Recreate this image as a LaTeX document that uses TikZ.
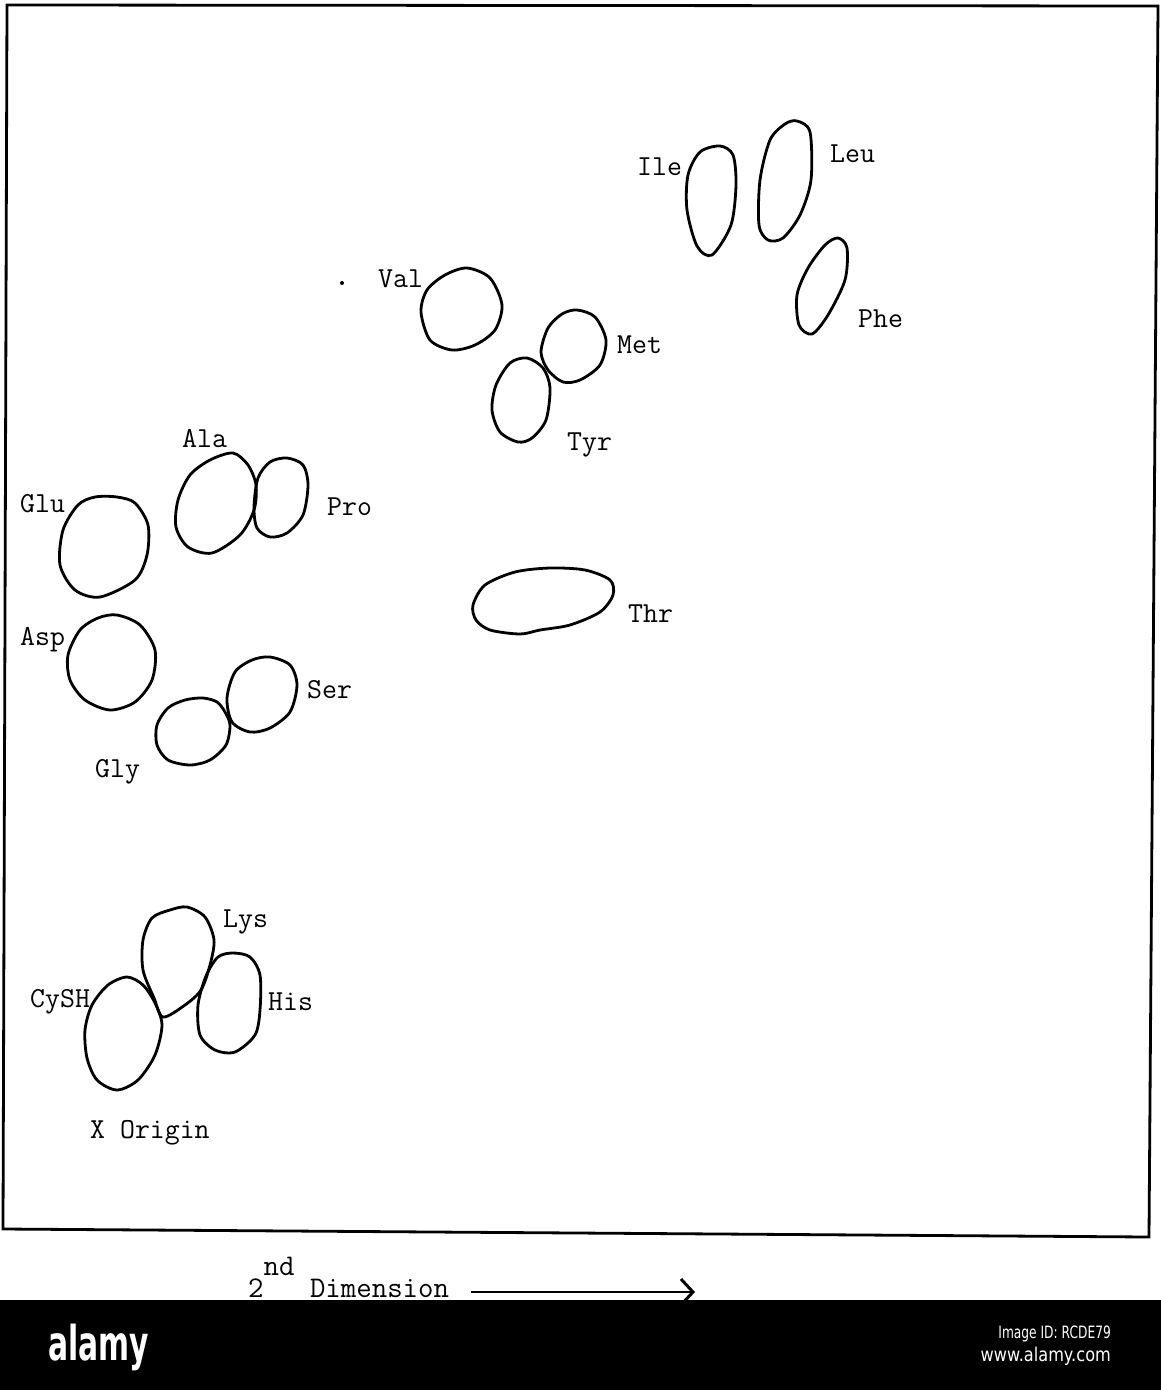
\documentclass[tikz,border=0pt]{standalone}
\usepackage{fontspec}
\newfontfamily\wmfont{DejaVu Sans}
\usetikzlibrary{arrows.meta}

\begin{document}
\begin{tikzpicture}[x=1pt, y=-1pt,
		spot/.style={line width=2.8pt, line join=round},
		lbl/.style={anchor=base west, inner sep=0pt, font=\ttfamily\fontsize{29}{32}\selectfont},
		wm/.style={inner sep=0pt, text=white},
	]
	\useasboundingbox (0,0) rectangle (1161,1390);

	% Frame
	\draw[line width=2.8pt] (7,5) -- (1158,6) -- (1149,1237) -- (3,1229) -- cycle;

	% Spots, upper group
	\draw[spot] plot[smooth cycle] coordinates {(720,146) (733,155) (736,185) (731,225) (712,255) (697,246) (687,210) (688,175) (700,152)};
	\draw[spot] plot[smooth cycle] coordinates {(797,121) (810,132) (811,180) (800,215) (783,238) (768,240) (759,225) (760,180) (770,140) (785,124)};
	\draw[spot] plot[smooth cycle] coordinates {(838,238) (847,248) (845,280) (828,315) (812,334) (799,325) (797,295) (808,268) (825,245)};
	\draw[spot] plot[smooth cycle] coordinates {(467,268) (490,278) (502,305) (495,330) (475,345) (452,350) (430,340) (421,312) (427,290) (445,275)};
	\draw[spot] plot[smooth cycle] coordinates {(577,310) (595,317) (606,340) (600,365) (580,380) (563,382) (548,370) (541,352) (548,328) (562,314)};
	\draw[spot] plot[smooth cycle] coordinates {(527,358) (543,368) (550,388) (546,420) (532,438) (518,442) (500,432) (492,410) (496,385) (510,363)};
	\draw[spot] plot[smooth cycle] coordinates {(473,605) (485,585) (515,572) (550,568) (585,570) (610,580) (613,595) (600,612) (570,625) (540,630) (520,634) (490,630) (476,620)};
	\fill (342,283) circle (2);

	% Spots, left group
	\draw[spot] plot[smooth cycle] coordinates {(233,453) (248,465) (256,485) (254,510) (240,535) (212,553) (188,547) (176,527) (178,500) (190,475) (210,460)};
	\draw[spot] plot[smooth cycle] coordinates {(287,458) (303,465) (308,485) (303,515) (287,533) (270,537) (257,528) (254,507) (258,478) (270,462)};
	\draw[spot] plot[smooth cycle] coordinates {(117,497) (135,503) (148,525) (147,555) (135,580) (100,597) (75,590) (60,565) (63,530) (78,505) (95,497)};
	\draw[spot] plot[smooth cycle] coordinates {(117,615) (140,625) (155,650) (152,680) (135,702) (110,710) (85,700) (70,680) (68,655) (80,630) (98,618)};
	\draw[spot] plot[smooth cycle] coordinates {(270,657) (290,665) (297,685) (290,712) (270,728) (250,732) (232,722) (227,698) (235,672) (252,660)};
	\draw[spot] plot[smooth cycle] coordinates {(203,698) (217,702) (225,712) (230,725) (226,745) (210,760) (190,765) (168,760) (157,745) (157,725) (168,708) (185,700)};

	% Spots near the origin
	\draw[spot] plot[smooth cycle] coordinates {(187,907) (205,917) (214,940) (210,965) (201,990) (185,1005) (163,1017) (154,998) (143,970) (143,940) (152,918) (170,910)};
	\draw[spot] plot[smooth cycle] coordinates {(233,953) (250,957) (260,975) (260,1010) (255,1035) (235,1052) (215,1050) (200,1035) (198,1005) (206,976) (218,957)};
	\draw[spot] plot[smooth cycle] coordinates {(127,977) (143,985) (155,1003) (162,1025) (155,1055) (138,1080) (117,1090) (97,1080) (87,1058) (85,1030) (92,1005) (108,985)};

	% Labels
	\foreach \nm/\txt/\x/\y in {ile/Ile/637/175, leu/Leu/830/162, phe/Phe/858/327,
			val/Val/378/287, met/Met/617/353, tyr/Tyr/567/450, thr/Thr/628/622,
			ala/Ala/182/447, glu/Glu/20/512, pro/Pro/327/515, asp/Asp/20/645,
			ser/Ser/307/698, gly/Gly/95/777, lys/Lys/223/927, his/His/268/1010,
			cysh/CySH/30/1007, origin/X Origin/90/1138}
		\node[lbl] (\nm) at (\x,\y) {\txt};

	% Direction of the second run
	\node[lbl, font=\ttfamily\fontsize{30}{32}\selectfont] (dim) at (248,1297) {2\raisebox{22pt}{nd} Dimension};
	\coordinate (dimtip) at (695,1292);
	\draw[line width=2pt, -{Straight Barb[length=12pt,width=26pt,line width=3pt]}] ([shift={(22pt,5pt)}]dim.base east) -- (dimtip);

	% Stock banner
	\fill[black] (0,1300) rectangle (1161,1390);
	\node[wm, anchor=base west, xscale=0.62, font=\wmfont\bfseries\fontsize{48}{50}\selectfont] (logo) at (48,1360) {alamy};
	\node[wm, anchor=base east, xscale=0.72, font=\wmfont\fontsize{17}{18}\selectfont] (imgid) at (1111,1338) {Image ID: RCDE79};
	\node[wm, anchor=base east, xscale=0.85, font=\wmfont\fontsize{19}{20}\selectfont] (site) at (1111,1361) {www.alamy.com};
\end{tikzpicture}
\end{document}
